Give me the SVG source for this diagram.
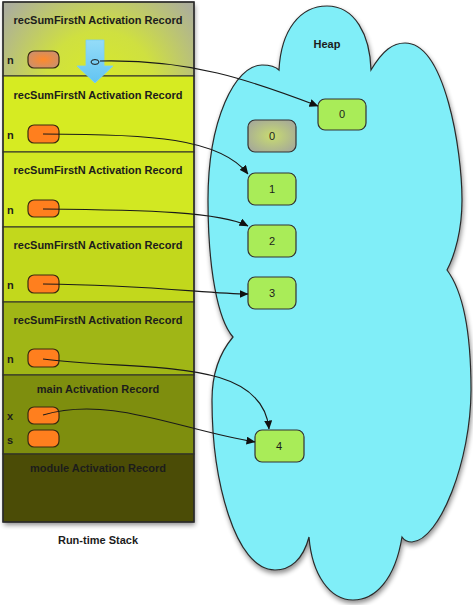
<svg xmlns="http://www.w3.org/2000/svg" width="473" height="605" viewBox="0 0 473 605">
<defs>
<style>
.t{font-family:"Liberation Sans",Arial,sans-serif;font-weight:bold;font-size:11px;fill:#1c1c1c;text-anchor:middle}
.l{font-family:"Liberation Sans",Arial,sans-serif;font-weight:bold;font-size:11px;fill:#1c1c1c}
.v{font-family:"Liberation Sans",Arial,sans-serif;font-size:11px;fill:#1c1c1c;text-anchor:middle}
.fr{stroke:#2a2a2a;stroke-width:1}
.ob{fill:#ff7f1e;stroke:#3a2a10;stroke-width:1.2}
.hb{fill:#a9ec58;stroke:#333;stroke-width:1.2}
.c{fill:none;stroke:#1a1a1a;stroke-width:1.1}
</style>
<radialGradient id="g1" cx="100" cy="85" r="120" gradientUnits="userSpaceOnUse">
<stop offset="0" stop-color="#d8ea2a"/><stop offset="0.45" stop-color="#cfe040"/><stop offset="1" stop-color="#acae9c"/>
</radialGradient>
<radialGradient id="gb" cx="0.5" cy="0.5" r="0.6">
<stop offset="0" stop-color="#ff8a2a"/><stop offset="1" stop-color="#c99070"/>
</radialGradient>
<radialGradient id="gg" cx="0.5" cy="0.5" r="0.6">
<stop offset="0" stop-color="#c8dc70"/><stop offset="1" stop-color="#a6aa98"/>
</radialGradient>
<linearGradient id="ga" x1="0" y1="0" x2="0" y2="1">
<stop offset="0" stop-color="#94dcf8"/><stop offset="1" stop-color="#62c4f2"/>
</linearGradient>
<filter id="sh" x="-10%" y="-10%" width="130%" height="130%">
<feGaussianBlur in="SourceAlpha" stdDeviation="2.5"/>
<feOffset dx="1" dy="3" result="b"/>
<feComponentTransfer><feFuncA type="linear" slope="0.45"/></feComponentTransfer>
<feMerge><feMergeNode/><feMergeNode in="SourceGraphic"/></feMerge>
</filter>
<marker id="ah" markerWidth="9" markerHeight="8" refX="8.5" refY="4" orient="auto" markerUnits="userSpaceOnUse">
<path d="M0,0 L9,4 L0,8 Z" fill="#111"/>
</marker>
</defs>

<g id="heap">
<path filter="url(#sh)" fill="#80eef8" stroke="#2a2a2a" stroke-width="1.2" d="M279,70 C281,30 300,6 327,6 C355,6 370,35 371,70 C383,50 393,43 405,43 C445,43 462,150 462,200 C462,230 455,255 447,270 C462,290 471,330 471,390 C471,460 440,540 412,542 C407,542 404,540 402,537 C395,580 375,600 353,600 C330,600 312,575 309,537 C303,560 290,570 275,570 C235,570 212,480 212,400 C212,370 222,350 233,337 C218,320 208,270 208,200 C208,120 235,65 262,65 C270,65 276,67 279,70 Z"/>
<text class="t" x="327" y="48">Heap</text>
</g>

<g id="stack">
<rect x="3" y="2" width="191" height="520" fill="#444" filter="url(#sh)"/>
<rect class="fr" x="3" y="2" width="191" height="74" fill="url(#g1)"/>
<rect class="fr" x="3" y="76" width="191" height="76" fill="#d6eb22"/>
<rect class="fr" x="3" y="152" width="191" height="75" fill="#d2e822"/>
<rect class="fr" x="3" y="227" width="191" height="75" fill="#c2d81c"/>
<rect class="fr" x="3" y="302" width="191" height="73" fill="#a0b616"/>
<rect class="fr" x="3" y="375" width="191" height="79" fill="#7e8e0e"/>
<rect class="fr" x="3" y="454" width="191" height="68" fill="#4b4c06"/>
<rect x="3" y="2" width="191" height="520" fill="none" stroke="#2a2a2a" stroke-width="1.4"/>
<text class="t" x="98" y="24">recSumFirstN Activation Record</text>
<text class="t" x="98" y="99">recSumFirstN Activation Record</text>
<text class="t" x="98" y="174">recSumFirstN Activation Record</text>
<text class="t" x="98" y="249">recSumFirstN Activation Record</text>
<text class="t" x="98" y="324">recSumFirstN Activation Record</text>
<text class="t" x="98" y="393">main Activation Record</text>
<text class="t" x="98" y="472">module Activation Record</text>
<text class="t" x="98" y="544">Run-time Stack</text>
</g>

<g id="vars">
<text class="l" x="7" y="64">n</text>
<rect x="28" y="51" width="31" height="17" rx="6" fill="url(#gb)" stroke="#3a2a10" stroke-width="1.2"/>
<text class="l" x="7" y="139">n</text>
<rect class="ob" x="28" y="125" width="31" height="18" rx="6"/>
<text class="l" x="7" y="214">n</text>
<rect class="ob" x="28" y="200" width="31" height="17" rx="6"/>
<text class="l" x="7" y="289">n</text>
<rect class="ob" x="28" y="275" width="31" height="18" rx="6"/>
<text class="l" x="7" y="363">n</text>
<rect class="ob" x="28" y="349" width="31" height="18" rx="6"/>
<text class="l" x="7" y="420">x</text>
<rect class="ob" x="28" y="407" width="31" height="17" rx="6"/>
<text class="l" x="7" y="444">s</text>
<rect class="ob" x="28" y="430" width="31" height="17" rx="6"/>
</g>

<g id="returnArrow">
<path d="M86,40 L104,40 L104,66 L113,66 L95,83 L77,66 L86,66 Z" fill="url(#ga)" stroke="#7ccff2" stroke-width="0.8"/>
<ellipse cx="95" cy="62" rx="4" ry="2.4" fill="none" stroke="#1a1a1a" stroke-width="1"/>
</g>

<g id="h0"><rect class="hb" x="318" y="99" width="48" height="31" rx="7"/><text class="v" x="342" y="118">0</text></g>
<g id="h0old"><rect x="248" y="120" width="48" height="32" rx="7" fill="url(#gg)" stroke="#333" stroke-width="1.2"/><text class="v" x="272" y="140">0</text></g>
<g id="h1"><rect class="hb" x="248" y="173" width="48" height="32" rx="7"/><text class="v" x="272" y="193">1</text></g>
<g id="h2"><rect class="hb" x="248" y="225" width="48" height="32" rx="7"/><text class="v" x="272" y="245">2</text></g>
<g id="h3"><rect class="hb" x="248" y="277" width="48" height="32" rx="7"/><text class="v" x="272" y="297">3</text></g>
<g id="h4"><rect class="hb" x="255" y="430" width="49" height="32" rx="7"/><text class="v" x="279" y="450">4</text></g>

<g id="connectors">
<path class="c" marker-end="url(#ah)" d="M100,61 C190,59 250,80 318,106"/>
<path class="c" marker-end="url(#ah)" d="M43,134 C150,134 220,138 248,174"/>
<path class="c" marker-end="url(#ah)" d="M43,209 C150,210 220,212 248,226"/>
<path class="c" marker-end="url(#ah)" d="M43,284 C150,285 210,294 248,294"/>
<path class="c" marker-end="url(#ah)" d="M43,359 C140,372 262,355 269,429"/>
<path class="c" marker-end="url(#ah)" d="M43,415 C110,395 180,430 255,442"/>
</g>
</svg>
